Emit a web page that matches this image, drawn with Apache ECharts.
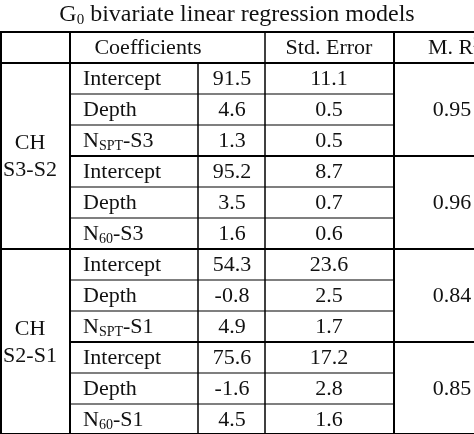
<!DOCTYPE html>
<html>
<head>
<meta charset="utf-8">
<script src="https://cdn.jsdelivr.net/npm/echarts@6/dist/echarts.min.js"></script>
<style>html,body{margin:0;padding:0;background:#fff}#main{width:474px;height:434px}</style>
</head>
<body>
<div id="main"></div>
<script>
// table contents
var title = 'G0 bivariate linear regression models';
var headers = ['Coefficients', 'Std. Error', 'M. R2'];
var groups = ['CH\nS3-S2', 'CH\nS2-S1'];
// term: [main, subscript, suffix]
var terms = [
  ['Intercept', '', ''], ['Depth', '', ''], ['N', 'SPT', '-S3'],
  ['Intercept', '', ''], ['Depth', '', ''], ['N', '60', '-S3'],
  ['Intercept', '', ''], ['Depth', '', ''], ['N', 'SPT', '-S1'],
  ['Intercept', '', ''], ['Depth', '', ''], ['N', '60', '-S1']
];
var coefs = ['91.5', '4.6', '1.3', '95.2', '3.5', '1.6', '54.3', '-0.8', '4.9', '75.6', '-1.6', '4.5'];
var stdErrs = ['11.1', '0.5', '0.5', '8.7', '0.7', '0.6', '23.6', '2.5', '1.7', '17.2', '2.8', '1.6'];
var r2 = ['0.95', '0.96', '0.84', '0.85'];

var chart = echarts.init(document.getElementById('main'));
var FONT = '"Liberation Serif", "DejaVu Serif", serif';
var top0 = 63, rowH = 31, headTop = 32;
var xs = [1, 70, 198, 265, 394, 474];
var els = [];

function line(x1, y1, x2, y2, w) {
  els.push({type: 'line', shape: {x1: x1, y1: y1, x2: x2, y2: y2}, style: {stroke: '#000', lineWidth: w}});
}
function text(x, y, str, align, size, rich) {
  els.push({type: 'text', x: x, y: y, style: {
    text: str, fill: '#111', font: (size || 22) + 'px ' + FONT,
    align: align || 'center', verticalAlign: 'middle', lineHeight: 27, rich: rich
  }});
}
var subRich = {
  n: {font: '22px ' + FONT, fill: '#111'},
  s: {font: '14px ' + FONT, fill: '#111', padding: [10, 0, 0, 0]}
};

// title
text(237, 15, '{n|G}{s|0}{n| bivariate linear regression models}', 'center', 24, {
  n: {font: '24px ' + FONT, fill: '#111'},
  s: {font: '15px ' + FONT, fill: '#111', padding: [10, 0, 0, 0]}
});
// header
text(148, 48, headers[0]);
text(329, 48, headers[1]);
text(454, 48, '{n|M. R}{s|2}', 'center', 22, {
  n: {font: '22px ' + FONT, fill: '#111'},
  s: {font: '14px ' + FONT, fill: '#111', padding: [0, 0, 10, 0]}
});

var bottom = top0 + terms.length * rowH;
// outer frame / main lines
line(0, headTop, 474, headTop, 2);
line(0, top0, 474, top0, 2);
line(0, bottom - 1, 474, bottom - 1, 2);
line(xs[0], headTop, xs[0], bottom, 2);
line(xs[1], headTop, xs[1], bottom, 2);
line(xs[3], headTop, xs[3], bottom, 1.5);
line(xs[4], headTop, xs[4], bottom, 2);
line(xs[2], top0, xs[2], bottom, 1.5);

terms.forEach(function (t, i) {
  var yc = top0 + i * rowH + rowH / 2 + 1;
  var s = t[1] ? '{n|' + t[0] + '}{s|' + t[1] + '}{n|' + t[2] + '}' : '{n|' + t[0] + '}';
  text(83, yc, s, 'left', 22, subRich);
  text(232, yc, coefs[i]);
  text(329, yc, stdErrs[i]);
  if (i > 0) {
    var y = top0 + i * rowH;
    if (i % 6 === 0) line(0, y, 474, y, 2);
    else if (i % 3 === 0) line(xs[1], y, 474, y, 2);
    else line(xs[1], y, xs[4], y, 1.2);
  }
});
r2.forEach(function (v, k) {
  text(452, top0 + (k * 3 + 1.5) * rowH + 1, v);
});
groups.forEach(function (g, k) {
  text(30, top0 + (k * 6 + 3) * rowH + 1, g);
});

chart.setOption({backgroundColor: '#fff', animation: false, graphic: {elements: els}});
</script>
</body>
</html>
